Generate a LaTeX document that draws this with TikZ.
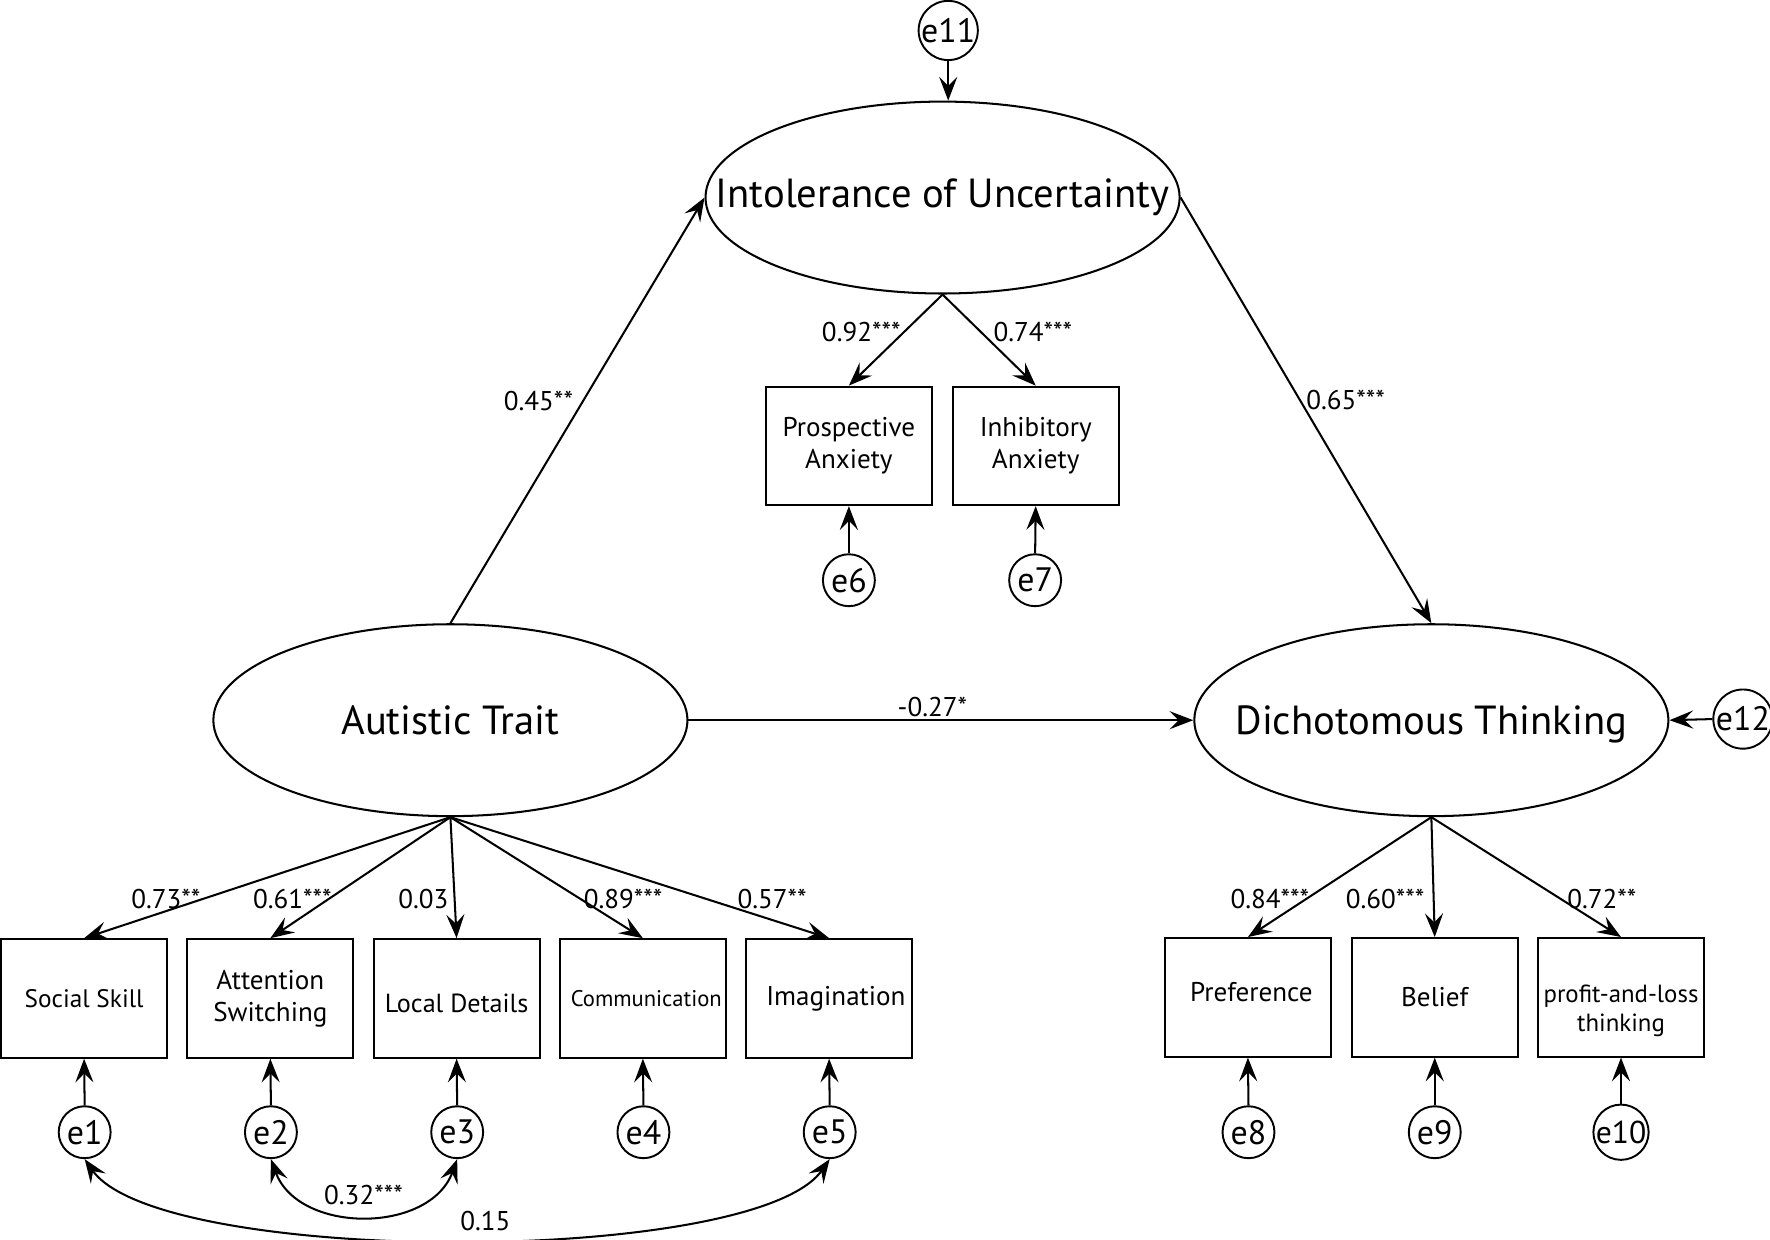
\documentclass[tikz,border=0pt]{standalone}
\usepackage{fontspec}
\setmainfont{PT Sans}
\usetikzlibrary{arrows.meta,shapes.geometric,calc}
\begin{document}
\begin{tikzpicture}[x=0.5pt,y=-0.5pt,
  lat/.style={draw, ellipse, line width=0.9pt, minimum width=210pt, minimum height=85pt, inner sep=0pt},
  lattext/.style={font=\fontsize{18}{21}\selectfont, inner sep=0pt},
  obs/.style={draw, rectangle, line width=0.9pt, minimum width=73.5pt, minimum height=52.5pt, inner sep=1pt, align=center, font=\fontsize{12}{14}\selectfont},
  boxtext/.style={inner sep=0pt, align=center, font=\fontsize{12}{14}\selectfont},
  err/.style={draw, circle, line width=0.85pt, minimum size=23pt, inner sep=0pt, font=\fontsize{15}{17}\selectfont},
  coef/.style={inner sep=0pt, font=\fontsize{12}{14}\selectfont},
  tip/.tip={Stealth[length=10.5pt,width=8pt,inset=4pt]},
  pth/.style={line width=0.9pt, -tip},
  cov/.style={line width=0.9pt, tip-tip}
]
\useasboundingbox (0,0) rectangle (1568,1098);
% latent variables
\node[lat, label={[lattext]center:Intolerance of Uncertainty}] (iu) at (835,175) {};
\node[lat, label={[lattext]center:Autistic Trait}] (at) at (399,638) {};
\node[lat, label={[lattext,yshift=-2pt]center:Dichotomous Thinking}] (dt) at (1268,638) {};
% disturbances
\node[err] (e11) at (840,27) {e11};
\node[err] (e12) at (1544,637) {e12};
% IU indicators
\node[obs] (pa) at (752,395) {Prospective\\Anxiety};
\node[obs] (ia) at (917.5,395) {Inhibitory\\Anxiety};
\node[err] (e6) at (752,514) {e6};
\node[err] (e7) at (917,514) {e7};
% AT indicators
\node[obs, font=\fontsize{11.2}{14}\selectfont] (ss) at (74.5,884.5) {Social Skill};
\node[obs] (as) at (239.5,884.5) {Attention\\Switching};
\node[obs, label={[boxtext,font=\fontsize{11.6}{14}\selectfont,yshift=-2pt]center:Local Details}] (ld) at (404.5,884.5) {};
\node[obs, label={[boxtext,font=\fontsize{10}{12}\selectfont,xshift=1.5pt]center:Communication}] (cm) at (569.5,884.5) {};
\node[obs, label={[boxtext,xshift=3pt]center:Imagination}] (im) at (734.5,884.5) {};
\node[err] (e1) at (75,1003) {e1};
\node[err] (e2) at (240,1003) {e2};
\node[err] (e3) at (405,1003) {e3};
\node[err] (e4) at (570,1003) {e4};
\node[err] (e5) at (735,1003) {e5};
% DT indicators
\node[obs, label={[boxtext,yshift=2.5pt,xshift=1.5pt]center:Preference}] (pf) at (1105.5,883.5) {};
\node[obs] (bf) at (1271,883.5) {Belief};
\node[obs, label={[boxtext,font=\fontsize{11}{13}\selectfont,yshift=-6pt]center:profit-and-loss\\thinking}] (pl) at (1436,883.5) {};
\node[err] (e8) at (1106,1003) {e8};
\node[err] (e9) at (1271,1003) {e9};
\node[err, font=\fontsize{14}{16}\selectfont] (e10) at (1436,1003) {e10};
% structural paths
\draw[pth] (at.north) -- (iu.west);
\draw[pth] (iu.east) -- (dt.north);
\draw[pth] (at.east) -- (dt.west);
\draw[pth] (e11.south) -- (e11.south |- iu.north);
\draw[pth] (e12.west) -- (dt.east);
% loadings
\draw[pth] (iu.south) -- (pa.north);
\draw[pth] (iu.south) -- (ia.north);
\foreach \b in {ss,as,ld,cm,im} \draw[pth] (at.south) -- (\b.north);
\foreach \b in {pf,bf,pl} \draw[pth] (dt.south) -- (\b.north);
% errors
\foreach \e/\b in {e6/pa,e7/ia,e1/ss,e2/as,e3/ld,e4/cm,e5/im,e8/pf,e9/bf,e10/pl}
  \draw[pth] (\e.north) -- (\b.south);
% covariances
\draw[cov] (e2.south) to[out=-70,in=-110,looseness=1.1] (e3.south);
\draw[cov] (e1.south) to[out=-55,in=-125,looseness=0.45] (e5.south);
% coefficient labels
\node[coef] (c45) at (477,355) {0.45**};
\node[coef] (c65) at (1192,354) {0.65***};
\node[coef] (c27) at (826,626) {-0.27*};
\node[coef] (c92) at (763,294) {0.92***};
\node[coef] (c74) at (915,294) {0.74***};
\node[coef] (c73) at (147,796) {0.73**};
\node[coef] (c61) at (259,796) {0.61***};
\node[coef] (c03) at (375,796) {0.03};
\node[coef] (c89) at (552,796) {0.89***};
\node[coef] (c57) at (684,796) {0.57**};
\node[coef] (c84) at (1125,796) {0.84***};
\node[coef] (c60) at (1227,796) {0.60***};
\node[coef] (c72) at (1419,796) {0.72**};
\node[coef] (c32) at (322,1059) {0.32***};
\node[coef] (c15) at (430,1082) {0.15};
\end{tikzpicture}
\end{document}
